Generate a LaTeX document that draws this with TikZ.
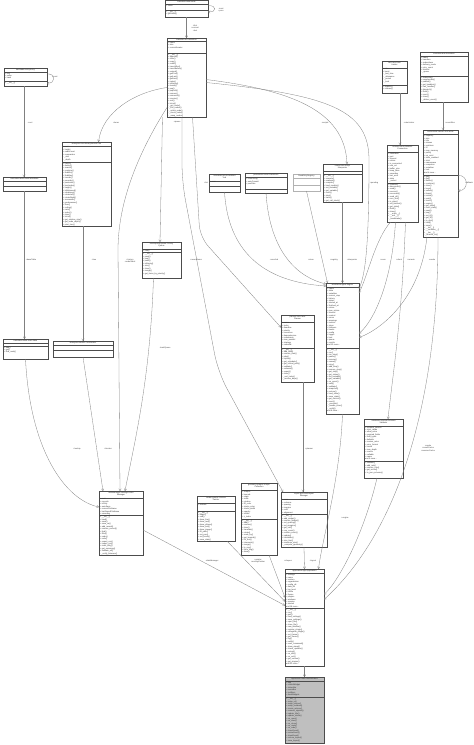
\documentclass[tikz,border=0pt]{standalone}
\usepackage{fontspec}
\setmainfont{Liberation Sans}
\usetikzlibrary{arrows.meta}
\newcommand\sz{\fontsize{2}{2.45}\selectfont}
\tikzset{
  ubox/.style={draw=black!70, line width=0.3pt, fill=white, inner sep=0pt, outer sep=0pt, anchor=north west},
  sepline/.style={draw=black!70, line width=0.3pt},
  txt/.style={font=\sz, inner sep=0pt, anchor=north west, align=left, text=black!80},
  hd/.style={font=\sz, inner sep=0pt, anchor=north, align=center, text=black!80},
  conn/.style={draw=black!50, line width=0.3pt, -{Straight Barb[length=2pt,width=2.4pt]}},
  lbl/.style={font=\sz, inner sep=0pt, align=center, text=black!75}
}
\newcommand\umlbox[8]{% name,x1,y1,x2,y2,sep1,sep2,border
  \node[ubox,draw=#8,minimum width={#4-#2},minimum height={#5-#3}] (#1) at (#2,#3) {};
  \draw[sepline,draw=#8] (#2,#6) -- (#4,#6);
  \draw[sepline,draw=#8] (#2,#7) -- (#4,#7);}
\newcommand\boxtext[9]{% name,x1,x2,y1,sep1,sep2,header,attrs,methods
  \node[hd] (#1h) at ({(#2+#3)/2},#4+0.5) {#7};
  \node[txt] (#1a) at (#2+1,#5+0.4) {#8};
  \node[txt] (#1m) at (#2+1,#6+0.4) {#9};}
\begin{document}
\begin{tikzpicture}[x=1pt,y=-1pt]
\useasboundingbox[fill=white] (0,0) rectangle (474,745);

% ---------- boxes ----------
\umlbox{A}{165}{0.5}{208}{17}{4}{10}{black!70}
\boxtext{A}{165}{208}{0.5}{4}{10}{linkedlist.node.Node}{+ value}{+ \_\_init\_\_()\\+ getValue()}

\umlbox{B}{167}{38}{206}{117}{41.5}{53}{black!70}
\boxtext{B}{167}{206}{38}{41.5}{53}{linkedlist.list.LinkedList}{+ name\\+ size\\+ currentIterator}{+ \_\_init\_\_()\\+ append()\\+ clear()\\+ copy()\\+ count()\\+ insertAfter()\\+ insertBefore()\\+ extend()\\+ getFirst()\\+ getLast()\\+ getItem()\\+ index()\\+ isEmpty()\\+ iterate()\\+ pop()\\+ popLeft()\\+ remove()\\+ removeAt()\\+ reverse()\\+ sort()\\+ toList()\\- \_get\_node()\\- \_link\_nodes()\\- \_unlink\_node()\\- \_check\_index()\\- \_swap\_nodes()}

\umlbox{C}{4}{68}{47}{86}{72}{81}{black!70}
\boxtext{C}{4}{47}{68}{72}{81}{hashtable.entry.Entry}{+ key\\+ value\\+ hash}{+ \_\_init\_\_()}

\umlbox{E}{3}{177}{46}{191}{181.5}{186}{black!70}
\boxtext{E}{3}{46}{177}{181.5}{186}{hashtable.table.HashTableBase}{}{}

\umlbox{F}{3}{339}{48}{359}{343}{346}{black!70}
\boxtext{F}{3}{48}{339}{343}{346}{hashtable.table.HashTable}{}{+ add()\\+ get()\\+ find\_node()}

\umlbox{D}{62}{142}{111}{226}{146}{162}{black!70}
\boxtext{D}{62}{111}{142}{146}{162}{binarytree.tree.BinarySearchTree}{+ root\\+ height\\+ nodeCount\\+ comparator\\- \_size\\- \_depth}{+ insert()\\+ delete()\\+ search()\\+ contains()\\+ findMin()\\+ findMax()\\+ inorder()\\+ preorder()\\+ postorder()\\+ levelorder()\\+ height()\\+ isBalanced()\\+ rebalance()\\+ rotateLeft()\\+ rotateRight()\\+ successor()\\+ predecessor()\\+ floor()\\+ ceiling()\\+ rank()\\+ select()\\+ clear()\\+ toList()\\+ get\_subtree\_size()\\+ get\_node\_depth()\\+ print\_tree()}

\umlbox{T}{53}{341}{113}{357}{345.5}{350.5}{black!70}
\boxtext{T}{53}{113}{341}{345.5}{350.5}{binarytree.iterator.TreeIterator}{}{}

\umlbox{N}{142}{242}{181}{278}{249}{252.5}{black!70}
\boxtext{N}{142}{181}{242}{249}{252.5}{stackqueue.queue.Priority\\Queue}{+ heap}{+ \_\_init\_\_()\\+ push()\\+ pop()\\+ peek()\\+ isEmpty()\\+ size()\\+ clear()\\+ merge()\\+ get\_items\_by\_priority()}

\umlbox{H}{382}{61}{407}{93}{68}{85}{black!70}
\boxtext{H}{382}{407}{61}{68}{85}{limit.rate.Rate\\Limiter}{+ rate\\+ burst\\- \_last\_time\\- \_allowance\\- \_period\\- \_lock}{+ acquire()\\+ release()}

\umlbox{I}{420}{52}{468}{102}{56.5}{76}{black!70}
\boxtext{I}{420}{468}{52}{56.5}{76}{eventbus.bus.EventBus}{+ name\\+ handlers\\+ subscribers\\+ delivery\_mode\\+ retry\_count\\+ timeout\\- \_queue}{+ subscribe()\\+ unsubscribe()\\+ publish()\\+ get\_handlers()\\+ has\_handler()\\+ dispatch()\\+ flush()\\+ reset()\\+ close()\\- \_deliver\_event()}

\umlbox{J}{387}{145}{418}{222}{152.5}{183}{black!70}
\boxtext{J}{387}{418}{145}{152.5}{183}{network.conn.Network\\Connection}{+ hostname\\+ port\\+ timeout\\+ retries\\+ is\_connected\\+ use\_ssl\\+ buffer\_size\\+ keep\_alive\\+ encoding\\+ last\_error\\+ stats\\- \_socket}{+ connect()\\+ disconnect()\\+ send()\\+ receive()\\+ reconnect()\\+ send\_all()\\+ recv\_line()\\+ is\_alive()\\+ set\_timeout()\\+ get\_stats()\\+ flush()\\+ close()\\+ \_\_enter\_\_()\\+ \_\_exit\_\_()\\- \_handshake()}

\umlbox{K}{423}{130}{458}{237}{134.5}{175}{black!70}
\boxtext{K}{423}{458}{130}{134.5}{175}{cachestore.cache.LRUCache}{+ capacity\\+ size\\+ hits\\+ misses\\+ evictions\\+ ttl\\+ max\_memory\\+ policy\\+ on\_evict\\+ stats\_enabled\\+ strict\\+ namespace\\+ compress\\+ serializer\\+ lock\\and 4 more...}{+ get()\\+ put()\\+ delete()\\+ contains()\\+ clear()\\+ keys()\\+ values()\\+ items()\\+ resize()\\+ evict()\\+ touch()\\+ expire()\\+ get\_stats()\\+ reset\_stats()\\+ peek()\\+ pop()\\+ set\_ttl()\\+ get\_ttl()\\+ to\_dict()\\+ load()\\+ save()\\+ \_\_len\_\_()\\+ \_\_contains\_\_()\\+ \_\_iter\_\_()\\- \_remove\_lru()}

\umlbox{L}{323}{164}{362}{202}{171}{174.5}{black!70}
\boxtext{L}{323}{362}{164}{171}{174.5}{interp.core.Script\\Interpreter}{}{+ \_\_init\_\_()\\+ execute()\\+ evaluate()\\+ compile()\\+ load\_module()\\+ set\_variable()\\+ get\_variable()\\+ reset()\\+ step()\\+ trace()\\+ get\_call\_stack()}

\umlbox{SA}{209}{174}{240}{192}{181}{186.5}{black!70}
\boxtext{SA}{209}{240}{174}{181}{186.5}{scheduler.job.Scheduled\\Job}{+ cron}{}

\umlbox{SB}{245}{173}{287}{193}{177.5}{189}{black!70}
\boxtext{SB}{245}{287}{173}{177.5}{189}{persistence.store.DataStore}{+ connString\\+ autoCommit\\+ poolSize}{}

\umlbox{SC}{293}{174}{320}{191}{178.5}{185}{black!30}
\boxtext{SC}{293}{320}{174}{178.5}{185}{ReadOnlyRegistry}{}{}

\umlbox{M}{326}{283}{359}{414}{287.5}{348.5}{black!70}
\boxtext{M}{326}{359}{283}{287.5}{348.5}{workflow.engine.Engine}{+ name\\+ state\\+ variables\\+ current\_step\\+ history\\+ status\\+ started\_at\\+ finished\_at\\+ retries\\+ max\_retries\\+ timeout\\+ context\\+ errors\\+ warnings\\+ metrics\\+ steps\\+ listeners\\+ hooks\\+ config\\+ logger\\+ lock\\+ queue\\+ results\\and 12 more...}{+ \_\_init\_\_()\\+ run()\\+ run\_step()\\+ pause()\\+ resume()\\+ cancel()\\+ retry()\\+ add\_step()\\+ remove\_step()\\+ get\_step()\\+ get\_status()\\+ set\_variable()\\+ get\_variable()\\+ on\_event()\\+ emit()\\+ validate()\\+ snapshot()\\+ restore()\\+ load\_state()\\+ save\_state()\\+ get\_metrics()\\+ reset()\\- \_execute()\\- \_handle\_error()\\- \_notify()\\and 8 more...}

\umlbox{O}{281}{315}{314}{382}{322}{348}{black!70}
\boxtext{O}{281}{314}{315}{322}{348}{planner.core.Task\\Planner}{+ name\\+ tasks\\+ deadline\\+ priority\\+ resources\\+ dependencies\\+ constraints\\+ max\_parallel\\+ strategy\\+ calendar}{+ \_\_init\_\_()\\+ add\_task()\\+ remove\_task()\\+ plan()\\+ replan()\\+ get\_schedule()\\+ get\_critical\_path()\\+ validate()\\+ estimate()\\+ export()\\+ clear()\\- \_sort\_tasks()\\- \_resolve\_deps()}

\umlbox{S}{364}{419}{403}{478}{426}{461.5}{black!70}
\boxtext{S}{364}{403}{419}{426}{461.5}{validation.schema.Schema\\Validator}{+ schema\_version\\+ strict\_mode\\+ allow\_extra\\+ required\_fields\\+ field\_types\\+ defaults\\+ custom\_rules\\+ error\_format\\+ locale\\+ max\_depth\\+ coerce\\+ nullable\\+ name\\and 5 more...}{+ validate()\\+ add\_rule()\\+ remove\_rule()\\+ get\_errors()\\+ to\_json\_schema()}

\umlbox{P}{281}{492}{327}{547}{499}{514.5}{black!70}
\boxtext{P}{281}{327}{492}{499}{514.5}{layout.grid.GridLayout\\Manager}{+ rows\\+ columns\\+ spacing\\+ margins\\+ cells\\+ alignment}{+ \_\_init\_\_()\\+ add\_widget()\\+ remove\_widget()\\+ set\_spacing()\\+ set\_margins()\\+ get\_cell()\\+ row\_count()\\+ column\_count()\\+ update()\\+ invalidate()\\+ size\_hint()\\+ minimum\_size()\\- \_compute\_geometry()}

\umlbox{Q}{241}{483}{277}{555}{490.5}{519}{black!70}
\boxtext{Q}{241}{277}{483}{490.5}{519}{geometry.shapes.Shape\\Collection}{+ shapes\\+ bounds\\+ origin\\+ scale\\+ rotation\\+ fill\_color\\+ stroke\_color\\+ stroke\_width\\+ opacity\\+ visible\\+ z\_index}{+ \_\_init\_\_()\\+ add()\\+ remove()\\+ clear()\\+ translate()\\+ rotate()\\+ scale\_by()\\+ get\_bounds()\\+ hit\_test()\\+ intersects()\\+ merge()\\+ to\_svg()\\+ from\_svg()\\+ draw()}

\umlbox{R}{197}{496}{235}{541}{503}{511}{black!70}
\boxtext{R}{197}{235}{496}{503}{511}{render.painter.Canvas\\Painter}{+ surface}{+ \_\_init\_\_()\\+ begin()\\+ end()\\+ draw\_line()\\+ draw\_rect()\\+ draw\_ellipse()\\+ draw\_text()\\+ draw\_image()\\+ fill\_path()\\+ set\_pen()\\+ set\_brush()\\+ save\_state()}

\umlbox{G}{99}{491}{143}{555}{498}{515.5}{black!70}
\boxtext{G}{99}{143}{491}{498}{515.5}{datamanager.manager.Data\\Manager}{+ root\\+ records\\+ isDirty\\+ autoSave\\+ currentFileName\\+ lastSavedFileName\\+ encoding}{+ \_\_init\_\_()\\+ load()\\+ save()\\+ save\_as()\\+ add\_record()\\+ remove\_record()\\+ find()\\+ filter()\\+ undo()\\+ redo()\\+ export\_csv()\\+ import\_csv()\\+ mark\_dirty()\\+ get\_summary()\\+ validate\_all()\\- \_notify\_listeners()}

\umlbox{U}{285}{569}{324}{666}{573.5}{608.5}{black!70}
\boxtext{U}{285}{324}{569}{573.5}{608.5}{application.app.Application}{+ settings\\+ name\\+ version\\+ organization\\+ config\_dir\\+ data\_dir\\+ log\_level\\+ locale\\+ theme\\+ plugins\\+ windows\\+ session\\+ started\\and 18 more...}{+ \_\_init\_\_()\\+ run()\\+ quit()\\+ load\_settings()\\+ save\_settings()\\+ open\_file()\\+ close\_file()\\+ new\_window()\\+ register\_plugin()\\+ unregister\_plugin()\\+ set\_theme()\\+ get\_theme()\\+ log()\\+ notify()\\+ exec\_command()\\+ show\_about()\\+ check\_updates()\\+ restart()\\+ on\_idle()\\+ on\_exit()\\+ get\_version()\\+ get\_plugins()\\and 31 more...}

\node[ubox,fill=black!25,minimum width=39,minimum height=66] (V) at (285,677) {};
\draw[sepline] (285,681.5) -- (324,681.5);
\draw[sepline] (285,697.5) -- (324,697.5);
\boxtext{V}{285}{324}{677}{681.5}{697.5}{application.main.MainWindow}{+ app\\+ centralWidget\\+ statusBar\\+ menuBar\\+ toolBars\\+ dockWidgets}{+ \_\_init\_\_()\\+ setup\_ui()\\+ setup\_menus()\\+ setup\_toolbars()\\+ create\_actions()\\+ connect\_signals()\\+ update\_title()\\+ update\_status()\\+ on\_open()\\+ on\_save()\\+ on\_close()\\+ on\_undo()\\+ on\_redo()\\+ closeEvent()\\+ resizeEvent()\\+ showEvent()\\+ restore\_layout()\\+ save\_layout()}

% ---------- connectors ----------
\draw[conn] (A) -- (B);
\draw[conn] ([yshift=3pt]A.east) .. controls +(9,-1) and +(9,1) .. ([yshift=-3pt]A.east);
\draw[conn] ([yshift=3pt]C.east) .. controls +(9,-1) and +(9,1) .. ([yshift=-6pt]C.east);
\draw[conn] ([yshift=8pt]K.east) .. controls +(11,-1) and +(11,1) .. ([yshift=-7pt]K.east);
\draw[conn] ([xshift=-1.5pt]C.south) -- ([xshift=-0.5pt]E.north);
\draw[conn] (E.south) -- ([xshift=-1pt]F.north);
\draw[conn] ([yshift=-10pt]B.west) .. controls (135,92) and (102,112) .. ([xshift=12pt]D.north);
\draw[conn] ([xshift=-24pt]B.south) -- ([xshift=-1.5pt]N.north);
\draw[conn] ([yshift=-30pt]B.west) .. controls (140,150) and (118,200) .. (118,250) -- ([xshift=-1pt]G.north);
\draw[conn, rounded corners=18pt] ([xshift=-4.5pt]B.south) -- (182,182) -- (218,372) -- ([xshift=2pt]P.north west);
\draw[conn, rounded corners=12pt] ([xshift=6pt]B.south) -- (200,237) -- ([yshift=21pt]O.west);
\draw[conn] ([yshift=-2pt]B.east) .. controls (290,90) and (345,110) .. ([xshift=4.5pt]L.north);
\draw[conn] ([yshift=-5pt]B.east) .. controls (330,95) and (369,110) .. (369,160) .. controls (369,250) and (365,275) .. ([yshift=-6pt]M.north east);
\draw[conn] ([xshift=-12pt]J.south) .. controls (375,240) and (368,275) .. ([yshift=-10pt]M.north east);
\draw[conn] ([xshift=-7pt]J.south) .. controls (392,280) and (375,320) .. ([yshift=15pt]M.east);
\draw[conn] ([xshift=3pt]J.south) .. controls (402,320) and (392,380) .. ([xshift=4.5pt]S.north);
\draw[conn] ([xshift=-13.5pt]K.south) .. controls (420,300) and (380,330) .. ([yshift=11pt]M.east);
\draw[conn] ([xshift=-2.5pt]K.south) .. controls (438,420) and (390,540) .. ([yshift=18pt]U.east);
\draw[conn] ([xshift=-6.5pt]S.south) .. controls (365,530) and (340,580) .. ([yshift=23pt]U.east);
\draw[conn] (M.south) .. controls (340,480) and (322,540) .. ([xshift=14pt]U.north);
\draw[conn] (P.south) -- (U.north);
\draw[conn] ([xshift=10pt]Q.south) -- ([yshift=20pt]U.west);
\draw[conn] ([xshift=11pt]R.south) -- ([yshift=16pt]U.west);
\draw[conn] ([yshift=-7pt]G.east) -- ([yshift=12pt]U.west);
\draw[conn] ([xshift=5.5pt]O.south) -- ([xshift=-1pt]P.north);
\draw[conn] (L.south) -- (M.north);
\draw[conn] (SA.south) .. controls (228,250) and (262,282) .. ([yshift=-3pt]M.north west);
\draw[conn] (SB.south) .. controls (270,255) and (300,278) .. ([yshift=-1pt]M.north west);
\draw[conn] (SC.south) -- ([xshift=1.5pt]M.north west);
\draw[conn] ([xshift=5.5pt]H.south) -- ([xshift=-2.5pt]J.north);
\draw[conn] ([xshift=-1pt]I.south) -- ([xshift=2.5pt]K.north);
\draw[conn] ([xshift=-3.5pt]D.south) -- (T.north);
\draw[conn] (F.south) .. controls (30,450) and (65,500) .. ([yshift=16pt]G.west);
\draw[conn] (T.south) -- ([xshift=-18pt]G.north);
\draw[conn] ([xshift=-8pt]N.south) .. controls (150,380) and (135,440) .. ([xshift=4pt]G.north);
\draw[conn] (U) -- (V);

% ---------- labels ----------
\node[lbl] (l1) at (221,10) {+next\\+prev};
\node[lbl] (l2) at (195,28) {+first\\+current\\+last};
\node[lbl] (l3) at (55,77) {+next};
\node[lbl] (l4) at (30,123) {+root};
\node[lbl] (l5) at (31,260) {+baseTable};
\node[lbl] (l6) at (116,123) {+items};
\node[lbl] (l7) at (177,122) {+queue};
\node[lbl] (l8) at (130,261) {+history\\+undoStack};
\node[lbl] (l9) at (94,260) {+tree};
\node[lbl] (l10) at (165,348) {+taskQueue};
\node[lbl] (l11) at (77,449) {+lookup};
\node[lbl] (l12) at (108,449) {+iterator};
\node[lbl] (l13) at (206,183) {+list};
\node[lbl] (l14) at (196,260) {+recentItems};
\node[lbl] (l15) at (274,260) {+cronJob};
\node[lbl] (l16) at (311,260) {+store};
\node[lbl] (l17) at (334,260) {+registry};
\node[lbl] (l18) at (352,260) {+interpreter};
\node[lbl] (l19) at (325,123) {+scripts};
\node[lbl] (l20) at (374,183) {+pending};
\node[lbl] (l21) at (383,260) {+conn};
\node[lbl] (l22) at (399,260) {+client};
\node[lbl] (l23) at (411,260) {+remote};
\node[lbl] (l24) at (432,260) {+cache};
\node[lbl] (l25) at (409,123) {+rateLimiter};
\node[lbl] (l26) at (450,123) {+eventBus};
\node[lbl] (l27) at (469,183) {+fallback};
\node[lbl] (l28) at (309,449) {+planner};
\node[lbl] (l29) at (428,448) {+cache\\+resultCache\\+sessionCache};
\node[lbl] (l30) at (345,518) {+engine};
\node[lbl] (l31) at (212,561) {+dataManager};
\node[lbl] (l32) at (258,561) {+painter\\+overlayPainter};
\node[lbl] (l33) at (288,561) {+shapes};
\node[lbl] (l34) at (313,561) {+layout};
\end{tikzpicture}
\end{document}
